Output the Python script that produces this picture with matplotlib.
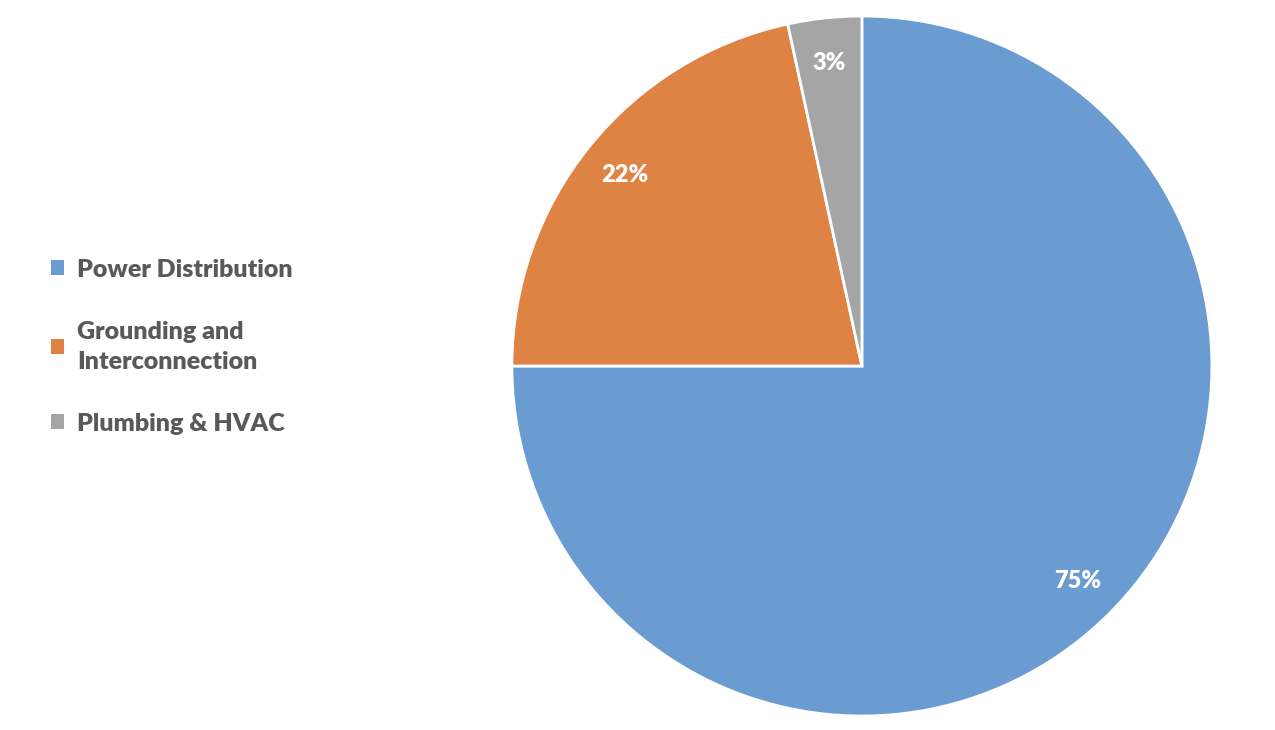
import matplotlib
matplotlib.use("Agg")
import matplotlib.pyplot as plt
from matplotlib.patches import Patch

labels = ["Power Distribution", "Grounding and\nInterconnection", "Plumbing & HVAC"]
values = [75.0, 21.6, 3.4]
colors = ["#6a9bd1", "#df8344", "#a5a5a5"]

plt.rcParams['font.family'] = ['Lato', 'DejaVu Sans']
fig = plt.figure(figsize=(12.75, 7.3), dpi=100)
ax = fig.add_axes([0.676 - 0.2745, 0.4986 - 0.4795, 0.549, 0.959])
wedges, texts, autotexts = ax.pie(values, colors=colors, startangle=90, counterclock=False,
       autopct=lambda p: f"{p:.0f}%", pctdistance=0.87,
       wedgeprops=dict(edgecolor="white", linewidth=2),
       textprops=dict(color="white", fontsize=17, fontweight="heavy"))
ax.set_xlim(-1.0, 1.0)
ax.set_ylim(-1.0, 1.0)
ax.set_aspect("equal")
handles = [Patch(facecolor=c, edgecolor="none") for c in colors]
leg = fig.legend(handles, labels, loc="center left", bbox_to_anchor=(0.022, 0.525), frameon=False,
           prop=dict(size=18, weight="heavy"), labelcolor="#595959",
           handlelength=0.55, handleheight=0.55, handletextpad=0.5, labelspacing=1.6)
for t in leg.get_texts():
    t.set_linespacing(1.45)
fig.savefig("out.png", dpi=100)
